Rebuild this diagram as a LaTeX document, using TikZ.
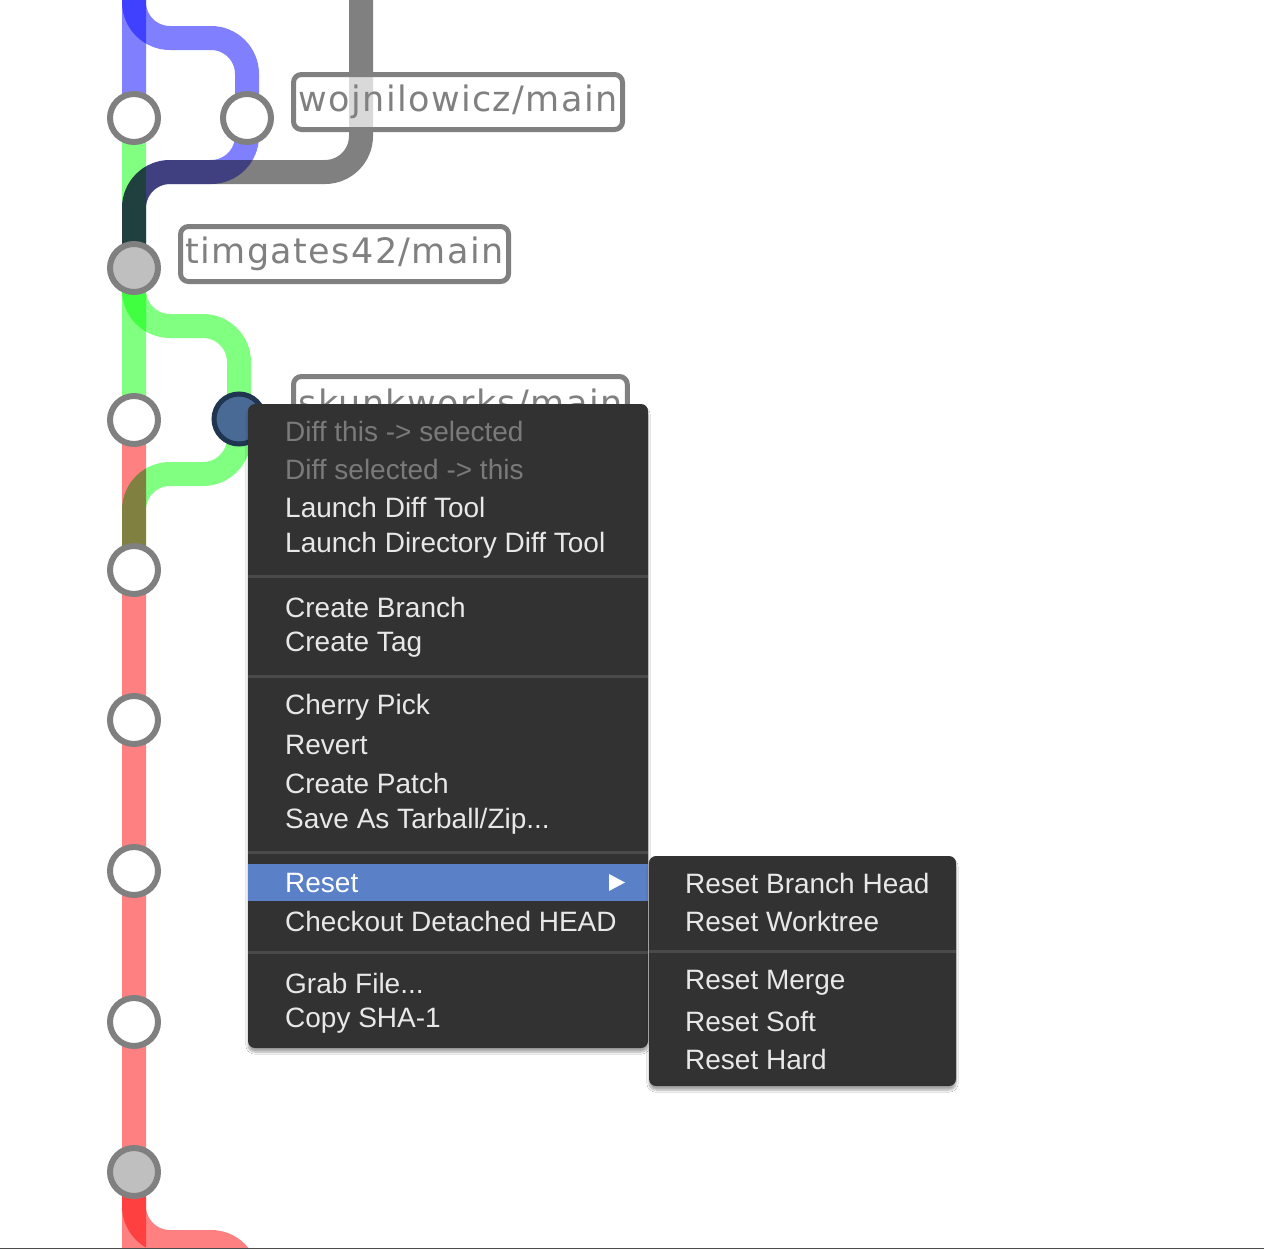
\documentclass[tikz,border=0pt]{standalone}
\usepackage{fontspec}
\setmainfont{Liberation Sans}
\newfontfamily\lblfont[LetterSpace=4]{DejaVu Sans}
\usetikzlibrary{shadows.blur}
\definecolor{lblue}{HTML}{8080FF}
\definecolor{lgreen}{HTML}{80FF80}
\definecolor{lred}{HTML}{FF8080}
\definecolor{lgray}{HTML}{808080}
\definecolor{menubg}{HTML}{323232}
\definecolor{menusep}{HTML}{4A4A4A}
\definecolor{menutxt}{HTML}{E8E8E8}
\definecolor{menudim}{HTML}{7A7A7A}
\definecolor{menuhl}{HTML}{5A80C8}
\definecolor{selfill}{HTML}{4A6A96}
\definecolor{seldraw}{HTML}{1F3550}
\tikzset{
  lane/.style={line width=24pt, rounded corners=36pt},
  commit/.style={circle, draw=lgray, line width=6pt, fill=white, minimum size=48pt, inner sep=0pt},
  commitg/.style={commit, fill=lgray!50},
  sel/.style={circle, draw=seldraw, line width=5pt, fill=selfill, minimum size=50pt, inner sep=0pt},
  lbl/.style={draw=lgray, line width=5pt, rounded corners=8pt, fill=white, fill opacity=0.7, text opacity=1, text=lgray, font=\lblfont\fontsize{35}{38}\selectfont, inner xsep=5pt, inner ysep=0pt, minimum height=55pt, anchor=west},
  mi/.style={anchor=west, text=menutxt, font=\fontsize{28}{32}\selectfont, inner sep=0pt},
  md/.style={mi, text=menudim},
}
\begin{document}
\begin{tikzpicture}[x=1pt,y=-1pt]
\useasboundingbox (0,0) rectangle (1264,1250);
\fill[white] (0,0) rectangle (1264,1250);
\begin{scope}
\clip (0,0) rectangle (1264,1247);
\begin{scope}[blend group=multiply]
\draw[lane, lred] (134,420) -- (134,1300);
\draw[lane, lred] (134,1175) -- (134,1242) -- (247,1242) -- (247,1320);
\draw[lane, lgreen] (134,118) -- (134,420);
\draw[lane, lgreen] (134,268) -- (134,326) -- (239,326) -- (239,474) -- (134,474) -- (134,570);
\draw[lane, lgray] (361,-40) -- (361,172) -- (134,172) -- (134,268);
\draw[lane, lblue] (134,-40) -- (134,118);
\draw[lane, lblue] (134,-40) -- (134,38) -- (247,38) -- (247,172) -- (134,172) -- (134,268);
\end{scope}
\end{scope}
\draw[black!70, line width=1.5pt] (0,1248.5) -- (1264,1248.5);

\node[commit] (c1) at (134,118) {};
\node[commit] (c2) at (247,118) {};
\node[commitg] (c3) at (134,268) {};
\node[commit] (c4) at (134,420) {};
\node[sel] (c5) at (239,419) {};
\node[commit] (c6) at (134,570) {};
\node[commit] (c7) at (134,720) {};
\node[commit] (c8) at (134,871) {};
\node[commit] (c9) at (134,1022) {};
\node[commitg] (c10) at (134,1172) {};

\node[lbl] (l1) at (291,102) {wojnilowicz/main};
\node[lbl] (l2) at (178,254) {timgates42/main};
\node[lbl] (l3) at (291,404) {skunkworks/main};

% main menu
\fill[menubg, rounded corners=7pt, blur shadow={shadow blur steps=8, shadow xshift=0pt, shadow yshift=-4pt, shadow opacity=35}] (248,404) rectangle (648,1048);
\draw[menusep, line width=3pt] (248,576) -- (648,576);
\draw[menusep, line width=3pt] (248,676) -- (648,676);
\draw[menusep, line width=3pt] (248,852) -- (648,852);
\draw[menusep, line width=3pt] (248,952) -- (648,952);
\fill[menuhl] (248,864) rectangle (648,901);
\fill[white] (609,874) -- (625,882.5) -- (609,891) -- cycle;
\node[md] (m1) at (285,431) {Diff this -> selected};
\node[md] (m2) at (285,469) {Diff selected -> this};
\node[mi] (m3) at (285,507) {Launch Diff Tool};
\node[mi] (m4) at (285,545) {Launch Directory Diff Tool};
\node[mi] (m5) at (285,607) {Create Branch};
\node[mi] (m6) at (285,645) {Create Tag};
\node[mi] (m7) at (285,707) {Cherry Pick};
\node[mi] (m8) at (285,745) {Revert};
\node[mi] (m9) at (285,783) {Create Patch};
\node[mi] (m10) at (285,821) {Save As Tarball/Zip...};
\node[mi, text=white] (m11) at (285,883) {Reset};
\node[mi] (m12) at (285,921) {Checkout Detached HEAD};
\node[mi] (m13) at (285,983) {Grab File...};
\node[mi] (m14) at (285,1021) {Copy SHA-1};

% submenu
\fill[menubg, rounded corners=7pt, blur shadow={shadow blur steps=8, shadow xshift=0pt, shadow yshift=-4pt, shadow opacity=35}] (649,856) rectangle (956,1086);
\draw[menusep, line width=3pt] (649,951) -- (956,951);
\node[mi] (s1) at (685,883) {Reset Branch Head};
\node[mi] (s2) at (685,921) {Reset Worktree};
\node[mi] (s3) at (685,983) {Reset Merge};
\node[mi] (s4) at (685,1021) {Reset Soft};
\node[mi] (s5) at (685,1059) {Reset Hard};
\end{tikzpicture}
\end{document}
